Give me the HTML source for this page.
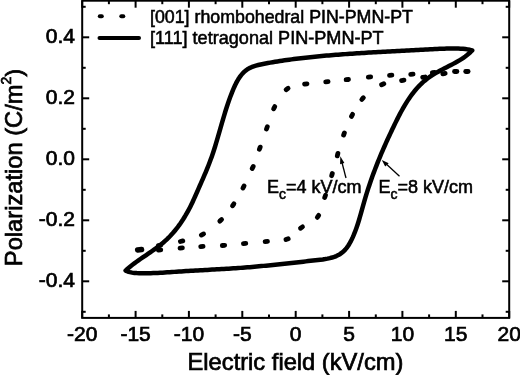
<!DOCTYPE html>
<html><head><meta charset="utf-8"><style>
html,body{margin:0;padding:0;background:#fff;}
svg{display:block;}
text{font-family:"Liberation Sans",Arial,sans-serif;fill:#000;}
</style></head><body>
<svg width="520" height="375" viewBox="0 0 520 375">
<rect width="520" height="375" fill="#fff"/>
<g stroke="#000" stroke-width="2" fill="none" stroke-linecap="butt">
<rect x="82.2" y="0.7" width="427.0" height="317.2"/>
<line x1="82.2" y1="317.9" x2="82.2" y2="310.9"/>
<line x1="82.2" y1="0.7" x2="82.2" y2="7.7"/>
<line x1="108.9" y1="317.9" x2="108.9" y2="314.4"/>
<line x1="108.9" y1="0.7" x2="108.9" y2="4.2"/>
<line x1="135.6" y1="317.9" x2="135.6" y2="310.9"/>
<line x1="135.6" y1="0.7" x2="135.6" y2="7.7"/>
<line x1="162.3" y1="317.9" x2="162.3" y2="314.4"/>
<line x1="162.3" y1="0.7" x2="162.3" y2="4.2"/>
<line x1="188.9" y1="317.9" x2="188.9" y2="310.9"/>
<line x1="188.9" y1="0.7" x2="188.9" y2="7.7"/>
<line x1="215.6" y1="317.9" x2="215.6" y2="314.4"/>
<line x1="215.6" y1="0.7" x2="215.6" y2="4.2"/>
<line x1="242.3" y1="317.9" x2="242.3" y2="310.9"/>
<line x1="242.3" y1="0.7" x2="242.3" y2="7.7"/>
<line x1="269.0" y1="317.9" x2="269.0" y2="314.4"/>
<line x1="269.0" y1="0.7" x2="269.0" y2="4.2"/>
<line x1="295.7" y1="317.9" x2="295.7" y2="310.9"/>
<line x1="295.7" y1="0.7" x2="295.7" y2="7.7"/>
<line x1="322.4" y1="317.9" x2="322.4" y2="314.4"/>
<line x1="322.4" y1="0.7" x2="322.4" y2="4.2"/>
<line x1="349.1" y1="317.9" x2="349.1" y2="310.9"/>
<line x1="349.1" y1="0.7" x2="349.1" y2="7.7"/>
<line x1="375.8" y1="317.9" x2="375.8" y2="314.4"/>
<line x1="375.8" y1="0.7" x2="375.8" y2="4.2"/>
<line x1="402.4" y1="317.9" x2="402.4" y2="310.9"/>
<line x1="402.4" y1="0.7" x2="402.4" y2="7.7"/>
<line x1="429.1" y1="317.9" x2="429.1" y2="314.4"/>
<line x1="429.1" y1="0.7" x2="429.1" y2="4.2"/>
<line x1="455.8" y1="317.9" x2="455.8" y2="310.9"/>
<line x1="455.8" y1="0.7" x2="455.8" y2="7.7"/>
<line x1="482.5" y1="317.9" x2="482.5" y2="314.4"/>
<line x1="482.5" y1="0.7" x2="482.5" y2="4.2"/>
<line x1="509.2" y1="317.9" x2="509.2" y2="310.9"/>
<line x1="509.2" y1="0.7" x2="509.2" y2="7.7"/>
<line x1="82.2" y1="311.8" x2="85.7" y2="311.8"/>
<line x1="509.2" y1="311.8" x2="505.7" y2="311.8"/>
<line x1="82.2" y1="281.3" x2="89.2" y2="281.3"/>
<line x1="509.2" y1="281.3" x2="502.2" y2="281.3"/>
<line x1="82.2" y1="250.8" x2="85.7" y2="250.8"/>
<line x1="509.2" y1="250.8" x2="505.7" y2="250.8"/>
<line x1="82.2" y1="220.3" x2="89.2" y2="220.3"/>
<line x1="509.2" y1="220.3" x2="502.2" y2="220.3"/>
<line x1="82.2" y1="189.8" x2="85.7" y2="189.8"/>
<line x1="509.2" y1="189.8" x2="505.7" y2="189.8"/>
<line x1="82.2" y1="159.3" x2="89.2" y2="159.3"/>
<line x1="509.2" y1="159.3" x2="502.2" y2="159.3"/>
<line x1="82.2" y1="128.8" x2="85.7" y2="128.8"/>
<line x1="509.2" y1="128.8" x2="505.7" y2="128.8"/>
<line x1="82.2" y1="98.3" x2="89.2" y2="98.3"/>
<line x1="509.2" y1="98.3" x2="502.2" y2="98.3"/>
<line x1="82.2" y1="67.8" x2="85.7" y2="67.8"/>
<line x1="509.2" y1="67.8" x2="505.7" y2="67.8"/>
<line x1="82.2" y1="37.3" x2="89.2" y2="37.3"/>
<line x1="509.2" y1="37.3" x2="502.2" y2="37.3"/>
<line x1="82.2" y1="6.8" x2="85.7" y2="6.8"/>
<line x1="509.2" y1="6.8" x2="505.7" y2="6.8"/>
</g>
<g font-size="21" text-anchor="middle" stroke="#000" stroke-width="0.7">
<text x="82.2" y="341">-20</text>
<text x="135.6" y="341">-15</text>
<text x="188.9" y="341">-10</text>
<text x="242.3" y="341">-5</text>
<text x="295.7" y="341">0</text>
<text x="349.1" y="341">5</text>
<text x="402.4" y="341">10</text>
<text x="455.8" y="341">15</text>
<text x="509.2" y="341">20</text>
</g>
<g font-size="21" text-anchor="end" stroke="#000" stroke-width="0.7">
<text x="75" y="42.7">0.4</text>
<text x="75" y="103.7">0.2</text>
<text x="75" y="164.7">0.0</text>
<text x="75" y="225.7">-0.2</text>
<text x="75" y="286.7">-0.4</text>
</g>
<text x="295.5" y="370" font-size="23.7" text-anchor="middle" stroke="#000" stroke-width="0.7">Electric field (kV/cm)</text>
<text transform="translate(22.4,167.5) rotate(-90)" font-size="23.7" text-anchor="middle" stroke="#000" stroke-width="0.7">Polarization (C/m<tspan font-size="14" dy="-11.5">2</tspan><tspan dy="11.5">)</tspan></text>
<g font-size="17.7" stroke="#000" stroke-width="0.55">
<text x="150" y="22.8" font-size="17.8">[001] rhombohedral PIN-PMN-PT</text>
<text x="150" y="43.6" font-size="18.1">[111] tetragonal PIN-PMN-PT</text>
</g>
<g stroke="#000" stroke-linecap="round" fill="none">
<line x1="99.8" y1="16.2" x2="101.8" y2="16.2" stroke-width="4"/>
<line x1="121.3" y1="16.2" x2="123.3" y2="16.2" stroke-width="4"/>
<line x1="99.5" y1="38" x2="139" y2="38" stroke-width="4"/>
</g>
<path d="M472.20,50.40 L469.93,49.82 L467.64,49.37 L465.34,49.04 L463.01,48.81 L460.68,48.66 L458.34,48.57 L455.99,48.52 L453.64,48.51 L451.29,48.51 L448.94,48.54 L446.60,48.59 L444.24,48.65 L441.89,48.73 L439.54,48.82 L437.19,48.93 L434.84,49.04 L432.48,49.16 L430.13,49.29 L427.77,49.42 L425.41,49.55 L423.06,49.68 L420.70,49.81 L418.34,49.93 L415.98,50.06 L413.62,50.18 L411.26,50.31 L408.90,50.43 L406.53,50.55 L404.17,50.68 L401.81,50.80 L399.45,50.92 L397.08,51.05 L394.72,51.17 L392.36,51.30 L390.00,51.42 L387.63,51.55 L385.27,51.67 L382.91,51.80 L380.55,51.93 L378.18,52.06 L375.82,52.19 L373.46,52.33 L371.10,52.46 L368.74,52.60 L366.39,52.74 L364.03,52.88 L361.67,53.03 L359.32,53.17 L356.96,53.33 L354.61,53.48 L352.26,53.63 L349.91,53.79 L347.56,53.96 L345.21,54.12 L342.86,54.29 L340.52,54.47 L338.17,54.65 L335.83,54.83 L333.49,55.01 L331.15,55.21 L328.82,55.40 L326.48,55.60 L324.15,55.81 L321.82,56.02 L319.49,56.23 L317.16,56.45 L314.84,56.68 L312.52,56.91 L310.19,57.15 L307.87,57.40 L305.55,57.65 L303.22,57.92 L300.90,58.19 L298.57,58.47 L296.24,58.75 L293.91,59.05 L291.57,59.36 L289.23,59.68 L286.88,60.00 L284.53,60.34 L282.18,60.70 L279.81,61.06 L277.44,61.43 L275.07,61.82 L272.69,62.22 L270.29,62.64 L267.89,63.07 L265.48,63.51 L263.07,63.97 L260.65,64.46 L258.27,65.00 L255.93,65.62 L253.66,66.33 L251.48,67.16 L249.41,68.14 L247.47,69.28 L245.67,70.58 L244.00,72.03 L242.44,73.62 L240.99,75.34 L239.65,77.16 L238.39,79.08 L237.21,81.08 L236.11,83.16 L235.07,85.28 L234.08,87.45 L233.14,89.65 L232.23,91.87 L231.35,94.09 L230.51,96.31 L229.68,98.55 L228.88,100.78 L228.11,103.03 L227.35,105.27 L226.61,107.53 L225.89,109.78 L225.19,112.04 L224.50,114.30 L223.82,116.56 L223.15,118.83 L222.49,121.09 L221.83,123.36 L221.18,125.62 L220.53,127.89 L219.89,130.16 L219.24,132.42 L218.59,134.69 L217.94,136.95 L217.28,139.21 L216.61,141.46 L215.93,143.72 L215.24,145.97 L214.54,148.21 L213.82,150.45 L213.09,152.69 L212.33,154.92 L211.56,157.14 L210.76,159.36 L209.95,161.57 L209.10,163.78 L208.24,165.98 L207.36,168.17 L206.46,170.35 L205.55,172.53 L204.63,174.71 L203.69,176.88 L202.75,179.05 L201.81,181.21 L200.86,183.37 L199.91,185.53 L198.96,187.69 L198.01,189.84 L197.07,191.99 L196.13,194.14 L195.18,196.28 L194.23,198.42 L193.25,200.55 L192.26,202.68 L191.24,204.79 L190.19,206.90 L189.10,209.00 L187.98,211.08 L186.83,213.15 L185.65,215.20 L184.42,217.23 L183.17,219.24 L181.87,221.23 L180.55,223.19 L179.18,225.13 L177.78,227.03 L176.33,228.90 L174.85,230.74 L173.33,232.55 L171.77,234.31 L170.18,236.04 L168.54,237.72 L166.86,239.36 L165.13,240.95 L163.37,242.50 L161.57,244.00 L159.73,245.47 L157.87,246.90 L155.97,248.30 L154.06,249.67 L152.13,251.03 L150.19,252.37 L148.23,253.70 L146.28,255.02 L144.32,256.34 L142.36,257.67 L140.41,259.01 L138.48,260.36 L136.56,261.73 L134.66,263.12 L132.78,264.54 L130.93,266.00 L129.12,267.49 L127.34,269.02 L125.60,270.60 L127.69,271.50 L129.86,272.16 L132.10,272.61 L134.40,272.90 L136.73,273.08 L139.08,273.17 L141.43,273.23 L143.78,273.25 L146.13,273.25 L148.47,273.23 L150.82,273.18 L153.16,273.11 L155.50,273.02 L157.84,272.91 L160.18,272.79 L162.53,272.66 L164.87,272.51 L167.21,272.36 L169.56,272.20 L171.91,272.04 L174.26,271.88 L176.61,271.71 L178.96,271.55 L181.32,271.39 L183.68,271.24 L186.04,271.09 L188.40,270.95 L190.77,270.81 L193.14,270.67 L195.51,270.53 L197.88,270.40 L200.25,270.27 L202.62,270.14 L204.99,270.01 L207.36,269.88 L209.73,269.75 L212.10,269.62 L214.47,269.49 L216.84,269.36 L219.21,269.23 L221.57,269.09 L223.94,268.95 L226.30,268.81 L228.66,268.67 L231.01,268.52 L233.36,268.36 L235.71,268.20 L238.05,268.04 L240.39,267.87 L242.73,267.70 L245.06,267.52 L247.39,267.33 L249.72,267.14 L252.04,266.94 L254.36,266.73 L256.68,266.53 L259.00,266.31 L261.32,266.10 L263.63,265.88 L265.95,265.65 L268.27,265.42 L270.59,265.19 L272.91,264.95 L275.23,264.71 L277.56,264.47 L279.88,264.22 L282.22,263.97 L284.55,263.72 L286.89,263.47 L289.23,263.21 L291.58,262.95 L293.94,262.69 L296.30,262.43 L298.67,262.17 L301.04,261.90 L303.42,261.64 L305.81,261.37 L308.21,261.11 L310.62,260.84 L313.04,260.57 L315.46,260.31 L317.90,260.04 L320.33,259.75 L322.75,259.44 L325.14,259.07 L327.50,258.65 L329.81,258.14 L332.06,257.55 L334.24,256.85 L336.34,256.03 L338.34,255.07 L340.25,253.95 L342.03,252.67 L343.70,251.22 L345.25,249.61 L346.69,247.86 L348.04,245.98 L349.29,244.01 L350.46,241.95 L351.55,239.82 L352.58,237.64 L353.55,235.43 L354.46,233.21 L355.33,230.98 L356.15,228.74 L356.94,226.49 L357.69,224.24 L358.41,221.98 L359.10,219.72 L359.77,217.46 L360.43,215.19 L361.07,212.92 L361.70,210.66 L362.33,208.39 L362.96,206.12 L363.59,203.86 L364.23,201.60 L364.88,199.35 L365.54,197.10 L366.22,194.85 L366.92,192.61 L367.62,190.37 L368.34,188.14 L369.08,185.92 L369.83,183.70 L370.59,181.48 L371.36,179.26 L372.15,177.05 L372.95,174.85 L373.76,172.65 L374.59,170.45 L375.42,168.26 L376.27,166.07 L377.13,163.88 L378.00,161.69 L378.89,159.52 L379.78,157.34 L380.68,155.16 L381.60,152.99 L382.52,150.83 L383.46,148.66 L384.41,146.50 L385.36,144.34 L386.33,142.19 L387.30,140.03 L388.28,137.88 L389.28,135.73 L390.28,133.58 L391.29,131.44 L392.31,129.30 L393.33,127.16 L394.37,125.02 L395.41,122.88 L396.46,120.75 L397.53,118.62 L398.60,116.50 L399.70,114.40 L400.81,112.30 L401.94,110.23 L403.10,108.16 L404.28,106.12 L405.48,104.10 L406.71,102.11 L407.98,100.14 L409.28,98.20 L410.61,96.30 L411.98,94.42 L413.38,92.58 L414.83,90.78 L416.32,89.02 L417.86,87.30 L419.44,85.63 L421.07,84.01 L422.75,82.43 L424.49,80.90 L426.28,79.43 L428.13,78.02 L430.04,76.66 L432.00,75.36 L434.01,74.11 L436.07,72.89 L438.16,71.71 L440.27,70.56 L442.41,69.44 L444.56,68.32 L446.72,67.21 L448.88,66.11 L451.03,64.99 L453.16,63.87 L455.28,62.72 L457.37,61.55 L459.42,60.34 L461.43,59.10 L463.39,57.81 L465.29,56.46 L467.13,55.05 L468.90,53.58 L470.59,52.03 L472.20,50.40 Z" stroke="#000" stroke-width="4.5" fill="none" stroke-linejoin="round"/>
<g stroke="#000" stroke-width="4.8" stroke-linecap="round">
<line x1="468.1" y1="71.5" x2="465.7" y2="71.5"/>
<line x1="456.9" y1="71.5" x2="454.5" y2="71.5"/>
<line x1="434.7" y1="72.5" x2="432.3" y2="72.7"/>
<line x1="413.1" y1="74.2" x2="410.7" y2="74.4"/>
<line x1="391.9" y1="75.2" x2="389.5" y2="75.4"/>
<line x1="370.7" y1="76.9" x2="368.3" y2="77.1"/>
<line x1="348.5" y1="79.5" x2="346.1" y2="79.7"/>
<line x1="328.1" y1="81.6" x2="325.7" y2="81.8"/>
<line x1="307.0" y1="83.8" x2="304.6" y2="84.2"/>
<line x1="288.1" y1="88.3" x2="286.1" y2="89.7"/>
<line x1="274.8" y1="106.6" x2="273.6" y2="108.8"/>
<line x1="267.3" y1="126.8" x2="266.5" y2="129.0"/>
<line x1="260.2" y1="147.1" x2="259.4" y2="149.3"/>
<line x1="253.2" y1="166.4" x2="252.2" y2="168.6"/>
<line x1="244.1" y1="185.9" x2="242.9" y2="188.1"/>
<line x1="233.9" y1="203.8" x2="232.5" y2="205.8"/>
<line x1="221.6" y1="219.5" x2="219.8" y2="221.1"/>
<line x1="203.6" y1="233.9" x2="201.4" y2="235.1"/>
<line x1="182.8" y1="240.9" x2="180.4" y2="241.5"/>
<line x1="160.8" y1="245.1" x2="158.4" y2="245.5"/><line x1="158.4" y1="250.1" x2="160.8" y2="249.9"/>
<line x1="180.0" y1="248.1" x2="182.4" y2="247.9"/>
<line x1="200.7" y1="246.6" x2="203.1" y2="246.4"/>
<line x1="222.3" y1="245.5" x2="224.7" y2="245.3"/>
<line x1="243.4" y1="243.6" x2="245.8" y2="243.4"/>
<line x1="265.1" y1="241.6" x2="267.5" y2="241.4"/>
<line x1="286.0" y1="239.6" x2="288.2" y2="238.8"/>
<line x1="300.5" y1="228.3" x2="302.5" y2="226.9"/>
<line x1="317.3" y1="217.4" x2="318.7" y2="215.4"/>
<line x1="324.7" y1="197.5" x2="325.5" y2="195.3"/>
<line x1="331.7" y1="175.7" x2="332.3" y2="173.5"/>
<line x1="337.3" y1="155.8" x2="337.9" y2="153.4"/>
<line x1="343.6" y1="135.1" x2="344.4" y2="132.9"/>
<line x1="351.4" y1="116.5" x2="352.6" y2="114.3"/>
<line x1="361.8" y1="99.5" x2="363.4" y2="97.7"/>
<line x1="381.6" y1="84.7" x2="383.8" y2="83.7"/>
<line x1="401.6" y1="80.6" x2="404.0" y2="80.2"/>
<line x1="422.7" y1="77.4" x2="425.1" y2="77.0"/>
<line x1="442.8" y1="73.8" x2="445.2" y2="73.4"/>
<line x1="137.6" y1="250" x2="141.6" y2="249.5" stroke-width="5.4"/>
</g>
<g font-size="18" stroke="#000" stroke-width="0.55">
<text x="267" y="192.6">E<tspan font-size="14" dy="6.5">c</tspan><tspan dy="-6.5">=4 kV/cm</tspan></text>
<text x="378.5" y="192.6">E<tspan font-size="14" dy="6.5">c</tspan><tspan dy="-6.5">=8 kV/cm</tspan></text>
</g>
<g stroke="#000" stroke-width="1.3" fill="none">
<line x1="346" y1="178" x2="342.1" y2="163"/>
<line x1="399.5" y1="176.3" x2="386.8" y2="164.6"/>
</g>
<g fill="#000">
<path d="M340.3,156.2 L344.4,163.1 L340.1,164.3 Z"/>
<path d="M381.8,160 L388.7,163.3 L385.2,166.5 Z"/>
</g>
</svg>
</body></html>
